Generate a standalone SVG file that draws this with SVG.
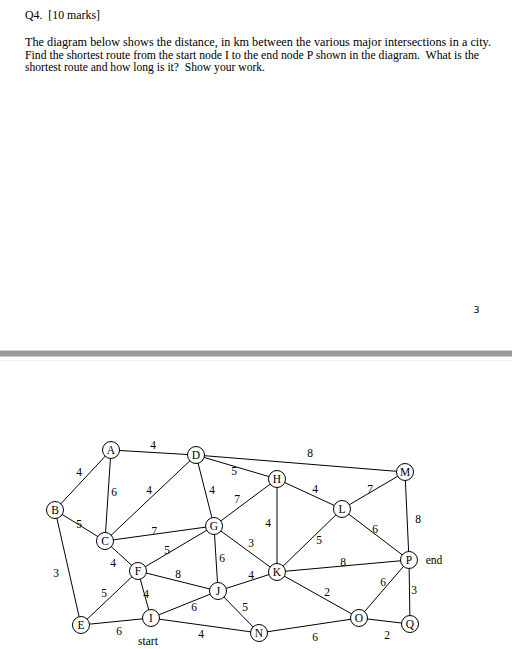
<svg xmlns="http://www.w3.org/2000/svg" width="512" height="649" viewBox="0 0 512 649">
<style>
text{font-family:"Liberation Serif","Times New Roman",serif;fill:#000}
.q{font-size:12.5px;white-space:pre}
.lb{font-size:11.5px;text-anchor:middle}
.nd circle{fill:#fff;stroke:#000;stroke-width:1}
.nd text{font-size:11.5px;text-anchor:middle}
#edges line{stroke:#000;stroke-width:1}
</style>
<rect width="512" height="649" fill="#fff"/>
<text class="q" x="25" y="19" textLength="75" lengthAdjust="spacingAndGlyphs" xml:space="preserve">Q4.  [10 marks]</text>
<text class="q" x="25" y="46" textLength="466" lengthAdjust="spacingAndGlyphs">The diagram below shows the distance, in km between the various major intersections in a city.</text>
<text class="q" x="25" y="58.5" textLength="454" lengthAdjust="spacingAndGlyphs" xml:space="preserve">Find the shortest route from the start node I to the end node P shown in the diagram.  What is the</text>
<text class="q" x="25" y="71" textLength="240" lengthAdjust="spacingAndGlyphs" xml:space="preserve">shortest route and how long is it?  Show your work.</text>
<text x="476.5" y="313" style="font-family:'DejaVu Sans',sans-serif;font-size:9.5px" text-anchor="middle">3</text>
<rect x="0" y="350.5" width="512" height="6" fill="#999"/>
<line x1="0" y1="360.5" x2="512" y2="360.5" stroke="#eee" stroke-width="1"/>
<g id="edges">
<line x1="111" y1="450" x2="196" y2="455"/>
<line x1="111" y1="450" x2="55" y2="510"/>
<line x1="111" y1="450" x2="105" y2="541"/>
<line x1="55" y1="510" x2="105" y2="541"/>
<line x1="55" y1="510" x2="81" y2="625"/>
<line x1="105" y1="541" x2="196" y2="455"/>
<line x1="105" y1="541" x2="214" y2="526"/>
<line x1="105" y1="541" x2="138" y2="571"/>
<line x1="196" y1="455" x2="214" y2="526"/>
<line x1="196" y1="455" x2="277" y2="479"/>
<line x1="196" y1="455" x2="405" y2="472"/>
<line x1="214" y1="526" x2="277" y2="479"/>
<line x1="214" y1="526" x2="138" y2="571"/>
<line x1="214" y1="526" x2="218" y2="591"/>
<line x1="214" y1="526" x2="277" y2="572"/>
<line x1="277" y1="479" x2="277" y2="572"/>
<line x1="277" y1="479" x2="342" y2="509"/>
<line x1="342" y1="509" x2="405" y2="472"/>
<line x1="342" y1="509" x2="277" y2="572"/>
<line x1="342" y1="509" x2="409" y2="560"/>
<line x1="405" y1="472" x2="409" y2="560"/>
<line x1="138" y1="571" x2="81" y2="625"/>
<line x1="138" y1="571" x2="151" y2="618"/>
<line x1="138" y1="571" x2="218" y2="591"/>
<line x1="218" y1="591" x2="277" y2="572"/>
<line x1="218" y1="591" x2="151" y2="618"/>
<line x1="218" y1="591" x2="259" y2="633"/>
<line x1="81" y1="625" x2="151" y2="618"/>
<line x1="151" y1="618" x2="259" y2="633"/>
<line x1="277" y1="572" x2="409" y2="560"/>
<line x1="277" y1="572" x2="359" y2="618"/>
<line x1="259" y1="633" x2="359" y2="618"/>
<line x1="359" y1="618" x2="409" y2="560"/>
<line x1="359" y1="618" x2="410" y2="624"/>
<line x1="409" y1="560" x2="410" y2="624"/>
</g>
<g id="labels">
<text class="lb" x="153" y="449">4</text>
<text class="lb" x="79" y="476">4</text>
<text class="lb" x="114" y="496">6</text>
<text class="lb" x="149" y="494">4</text>
<text class="lb" x="212" y="494">4</text>
<text class="lb" x="234" y="475">5</text>
<text class="lb" x="237" y="503">7</text>
<text class="lb" x="79" y="528">5</text>
<text class="lb" x="154" y="535">7</text>
<text class="lb" x="251" y="547">3</text>
<text class="lb" x="268" y="527">4</text>
<text class="lb" x="310" y="457">8</text>
<text class="lb" x="315" y="493">4</text>
<text class="lb" x="370" y="493">7</text>
<text class="lb" x="418" y="523">8</text>
<text class="lb" x="319" y="544">5</text>
<text class="lb" x="375" y="533">6</text>
<text class="lb" x="56" y="577">3</text>
<text class="lb" x="113" y="567">4</text>
<text class="lb" x="167" y="554">5</text>
<text class="lb" x="178" y="578">8</text>
<text class="lb" x="222" y="562">6</text>
<text class="lb" x="251" y="579">4</text>
<text class="lb" x="104" y="597">5</text>
<text class="lb" x="146" y="598">4</text>
<text class="lb" x="194" y="611">6</text>
<text class="lb" x="245" y="611">5</text>
<text class="lb" x="119" y="635">6</text>
<text class="lb" x="201" y="638">4</text>
<text class="lb" x="148" y="645">start</text>
<text class="lb" x="343" y="566">8</text>
<text class="lb" x="327" y="596">2</text>
<text class="lb" x="383" y="586">6</text>
<text class="lb" x="414" y="594">3</text>
<text class="lb" x="315" y="641">6</text>
<text class="lb" x="387" y="639">2</text>
<text class="lb" x="434" y="564">end</text>
</g>
<g id="A" class="nd"><circle cx="111" cy="450" r="8.5"/><text x="111" y="454">A</text></g>
<g id="D" class="nd"><circle cx="196" cy="455" r="8.5"/><text x="196" y="459">D</text></g>
<g id="H" class="nd"><circle cx="277" cy="479" r="8.5"/><text x="277" y="483">H</text></g>
<g id="M" class="nd"><circle cx="405" cy="472" r="8.5"/><text x="405" y="476">M</text></g>
<g id="B" class="nd"><circle cx="55" cy="510" r="8.5"/><text x="55" y="514">B</text></g>
<g id="L" class="nd"><circle cx="342" cy="509" r="8.5"/><text x="342" y="513">L</text></g>
<g id="G" class="nd"><circle cx="214" cy="526" r="8.5"/><text x="214" y="530">G</text></g>
<g id="C" class="nd"><circle cx="105" cy="541" r="8.5"/><text x="105" y="545">C</text></g>
<g id="P" class="nd"><circle cx="409" cy="560" r="8.5"/><text x="409" y="564">P</text></g>
<g id="K" class="nd"><circle cx="277" cy="572" r="8.5"/><text x="277" y="576">K</text></g>
<g id="F" class="nd"><circle cx="138" cy="571" r="8.5"/><text x="138" y="575">F</text></g>
<g id="J" class="nd"><circle cx="218" cy="591" r="8.5"/><text x="218" y="595">J</text></g>
<g id="E" class="nd"><circle cx="81" cy="625" r="8.5"/><text x="81" y="629">E</text></g>
<g id="I" class="nd"><circle cx="151" cy="618" r="8.5"/><text x="151" y="622">I</text></g>
<g id="N" class="nd"><circle cx="259" cy="633" r="8.5"/><text x="259" y="637">N</text></g>
<g id="O" class="nd"><circle cx="359" cy="618" r="8.5"/><text x="359" y="622">O</text></g>
<g id="Q" class="nd"><circle cx="410" cy="624" r="8.5"/><text x="410" y="628">Q</text></g>
</svg>
